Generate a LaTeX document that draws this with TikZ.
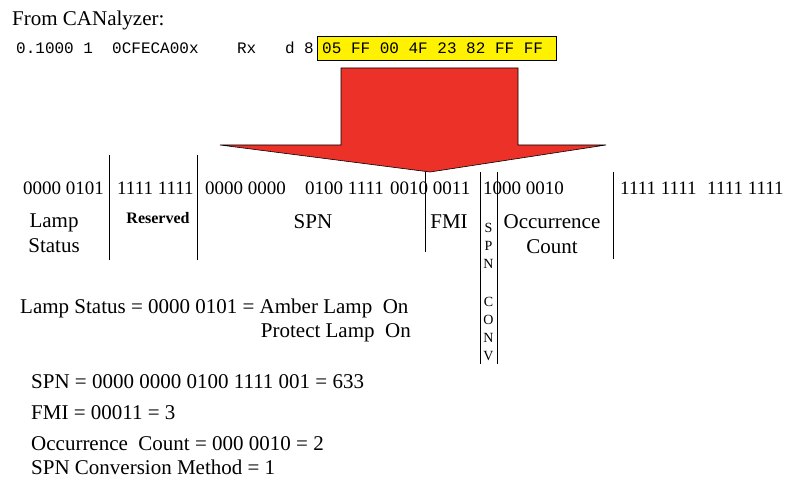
\documentclass[tikz,border=0pt]{standalone}
\usepackage{fontspec}
\setmainfont{Liberation Serif}
\setmonofont{Liberation Mono}
\definecolor{arrred}{RGB}{236,50,40}
\begin{document}
\begin{tikzpicture}[x=1pt,y=-1pt,
  t/.style={inner sep=0pt,anchor=west,font=\fontsize{19}{21}\selectfont},
  b/.style={inner sep=0pt,anchor=west,font=\fontsize{21}{25}\selectfont},
  m/.style={inner sep=0pt,anchor=west,font=\ttfamily\fontsize{16}{18}\selectfont},
  sep/.style={draw=black,line width=0.7pt},
  v/.style={inner sep=0pt,font=\fontsize{14}{15}\selectfont}]
\useasboundingbox (0,0) rectangle (808,486);
\node[b] (from) at (12,20) {From CANalyzer:};
\node[m] (l1) at (16,48) {0.1000 1\ \ 0CFECA00x\ \ \ \ Rx\ \ \ d 8};
\node[draw=black,fill=yellow,minimum width=239pt,minimum height=24pt,inner sep=0pt] (yb) at (436.5,48) {};
\node[m] (hex) at (322,48) {05 FF 00 4F 23 82 FF FF};
\filldraw[fill=arrred,draw=black,line width=0.6pt]
 (341,68) -- (518,68) -- (518,145) -- (606,145) -- (430,172) -- (220,145) -- (341,145) -- cycle;
\coordinate (a1) at (109,155); \coordinate (a2) at (109,260);
\coordinate (b1) at (197,155); \coordinate (b2) at (197,260);
\coordinate (c1) at (425,172); \coordinate (c2) at (425,252);
\coordinate (d1) at (480,172); \coordinate (d2) at (480,364);
\coordinate (e1) at (497,172); \coordinate (e2) at (497,364);
\coordinate (f1) at (613,172); \coordinate (f2) at (613,259);
\foreach \p in {a,b,c,d,e,f} \draw[sep] (\p1) -- (\p2);
\node[t] (n1) at (23,188) {0000 0101};
\node[t] (n2) at (117,188) {1111 1111};
\node[t] (n3) at (205,188) {0000 0000};
\node[t] (n4) at (305,188) {0100 1111};
\node[t] (n5) at (390,188) {0010 0011};
\node[t] (n6) at (483,188) {1000 0010};
\node[t] (n7) at (620,188) {1111 1111};
\node[t] (n8) at (707,188) {1111 1111};
\node[b,align=center,anchor=center] (ls) at (54,233) {Lamp\\Status};
\node[inner sep=0pt,font=\bfseries\fontsize{16}{18}\selectfont] (res) at (158,218) {Reserved};
\node[b,anchor=center] (spn) at (313,222) {SPN};
\node[b,anchor=center] (fmi) at (449,222) {FMI};
\node[b,align=center,anchor=center] (oc) at (552,234) {Occurrence\\Count};
\foreach \c/\y in {S/228,P/246,N/264,C/302,O/320,N/338,V/356}
  \node[v] at (488.5,\y) {\c};
\node[b] (lsq) at (20,308) {Lamp Status = 0000 0101 = Amber Lamp\ \ On};
\node[b,anchor=east] (pl) at (411,333) {Protect Lamp\ \ On};
\node[b] (q1) at (31,382) {SPN = 0000 0000 0100 1111 001 = 633};
\node[b] (q2) at (31,413) {FMI = 00011 = 3};
\node[b] (q3) at (31,444) {Occurrence\ \ Count = 000 0010 = 2};
\node[b] (q4) at (31,467) {SPN Conversion Method = 1};
\end{tikzpicture}
\end{document}
